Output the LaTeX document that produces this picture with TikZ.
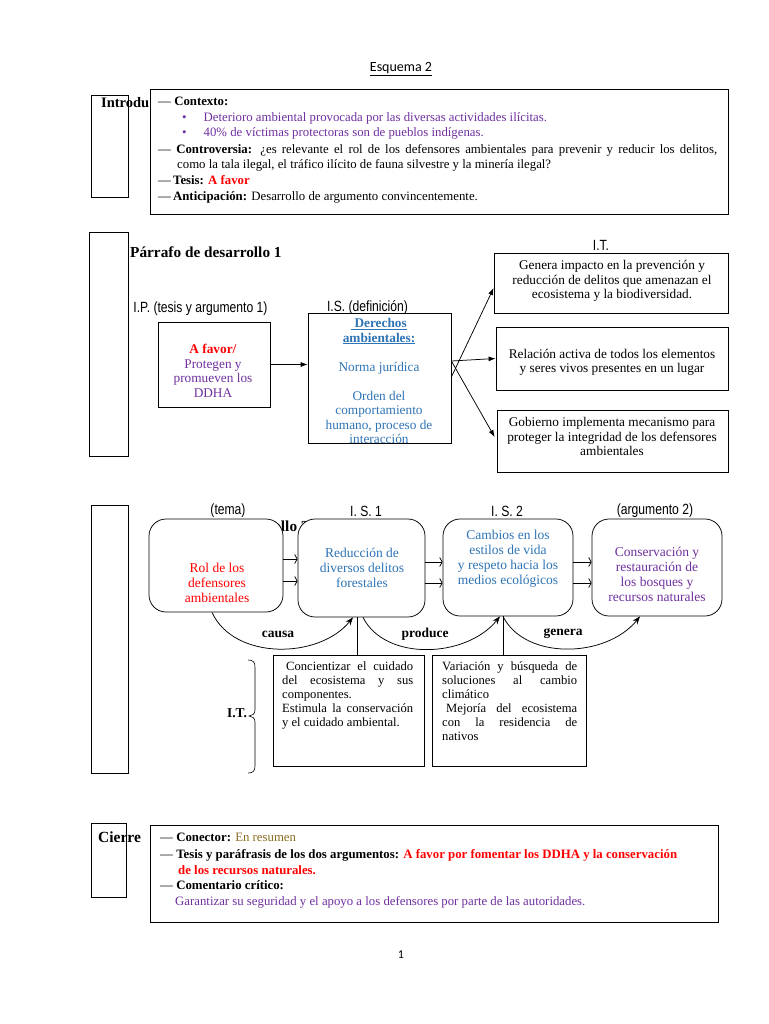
\documentclass[tikz,border=0pt]{standalone}
\usepackage{fontspec}
\setmainfont{Liberation Serif}
\setsansfont{Liberation Sans}[FakeStretch=0.82]
\newfontfamily\calibri{Carlito}
\usetikzlibrary{arrows.meta,calc}
\definecolor{purp}{HTML}{7030A0}
\definecolor{blu}{HTML}{2E74B5}
\definecolor{rojo}{HTML}{FF0000}
\definecolor{oro}{HTML}{8C6D1F}
\begin{document}
\begin{tikzpicture}[x=1pt,y=-1pt,
  box/.style={draw, line width=0.75pt, fill=white, inner sep=0pt},
  rbox/.style={box, rounded corners=17pt},
  lbl/.style={inner sep=0pt, anchor=base west},
  ctr/.style={inner sep=0pt, align=center},
  sans/.style={inner sep=0pt, font=\sffamily\fontsize{14.8}{16}\selectfont},
  hd/.style={inner sep=0pt, anchor=base west, font=\bfseries\fontsize{15.3}{17}\selectfont},
  body/.style={font=\fontsize{12.8}{16}\selectfont},
  boxtxt/.style={ctr, font=\fontsize{13.3}{14.5}\selectfont},
  rtxt/.style={ctr, font=\fontsize{13.5}{15}\selectfont},
  ittxt/.style={inner sep=0pt, anchor=north west, align=justify, font=\fontsize{12.6}{14}\selectfont},
  bl/.style={inner sep=0pt, font=\bfseries\fontsize{13.5}{15}\selectfont},
  arr/.style={line width=0.75pt, -{Latex[length=7pt,width=5pt]}},
  carr/.style={line width=0.75pt, -{Stealth[length=8pt,width=6pt]}},
  dbl/.style={line width=0.75pt, -{Straight Barb[length=2.5pt,width=9pt]}}
]
\fill[white] (0,0) rectangle (768,1024);
\useasboundingbox (0,0) rectangle (768,1024);

% ---------- title
\node[inner sep=0pt, font=\calibri\fontsize{14}{16}\selectfont] (title) at (401,69) {\underline{Esquema 2}};

% ---------- Introduccion
\node[box, minimum width=37pt, minimum height=102pt] (introlbl) at (109.5,146) {};
\node[inner sep=0pt, anchor=base west, font=\bfseries\fontsize{14.5}{16}\selectfont] (introtxt) at (101,108) {Introdu};
\node[box, minimum width=578pt, minimum height=125pt] (introbox) at (439,151.5) {};
\node[lbl, body] (i1) at (158,106) {— \textbf{Contexto:}};
\node[lbl, body, text=purp] (i2) at (182,122) {•\hspace{17pt}Deterioro ambiental provocada por las diversas actividades ilícitas.};
\node[lbl, body, text=purp] (i3) at (182,137) {•\hspace{17pt}40\% de víctimas protectoras son de pueblos indígenas.};
\node[lbl, body] (i4) at (158,154) {\makebox[559pt][s]{— \textbf{Controversia:} ¿es relevante el rol de los defensores ambientales para prevenir y reducir los delitos,}};
\node[lbl, body] (i5) at (177,169) {como la tala ilegal, el tráfico ilícito de fauna silvestre y la minería ilegal?};
\node[lbl, body] (i6) at (158,185) {—\,\textbf{Tesis: \textcolor{rojo}{A favor}}};
\node[lbl, body] (i7) at (158,201) {—\,\textbf{Anticipación:} Desarrollo de argumento convincentemente.};

% ---------- Parrafo 1
\node[box, minimum width=39pt, minimum height=224pt] (p1lbl) at (108.5,344) {};
\node[hd] (p1h) at (130,257) {Párrafo de desarrollo 1};
\node[sans] (iplab) at (200.5,309) {I.P. (tesis y argumento 1)};
\node[box, minimum width=112pt, minimum height=85pt] (ipbox) at (214,364.5) {};
\node[boxtxt] (iptxt) at (213,371) {\textcolor{rojo}{\textbf{A favor/}}\\\textcolor{purp}{Protegen y}\\\textcolor{purp}{promueven los}\\\textcolor{purp}{DDHA}};
\node[box, minimum width=143pt, minimum height=130pt] (isbox) at (379.5,378) {};
\node[sans] (islab) at (367.5,308) {I.S. (definición)};
\node[boxtxt, text=blu] (istxt) at (379,381) {\textbf{\underline{\ Derechos}}\\\textbf{\underline{ambientales:}}\\[14.5pt]Norma jurídica\\[14.5pt]Orden del\\comportamiento\\humano, proceso de\\interacción};

\node[sans] (itlab) at (601,245) {I.T.};
\node[box, minimum width=234pt, minimum height=60pt] (it1) at (611,283) {};
\node[boxtxt] (it1t) at (612,281) {Genera impacto en la prevención y\\reducción de delitos que amenazan el\\ecosistema y la biodiversidad.};
\node[box, minimum width=232pt, minimum height=63pt] (it2) at (612,358.5) {};
\node[boxtxt] (it2t) at (612,362.5) {Relación activa de todos los elementos\\y seres vivos presentes en un lugar};
\node[box, minimum width=231pt, minimum height=62pt] (it3) at (612.5,441) {};
\node[boxtxt] (it3t) at (612,436.5) {Gobierno implementa mecanismo para\\proteger la integridad de los defensores\\ambientales};

\draw[arr] (ipbox.east) -- (isbox.west |- ipbox.east);
\draw[arr] ($(isbox.east)+(0,-1)$) -- ($(it1.west)+(0,5)$);
\draw[arr] ($(isbox.east)+(0,-17)$) -- (it2.west);
\draw[arr] ($(isbox.east)+(0,-17)$) -- ($(it3.west)+(-2,-4)$);

% ---------- Parrafo 2
\node[box, minimum width=37pt, minimum height=268pt] (p2lbl) at (109.5,639) {};
\node[hd] (p2h) at (157,531) {Párrafo de desarrollo 2};
\node[rbox, minimum width=134pt, minimum height=93pt] (r1) at (216,565.5) {};
\node[rbox, minimum width=127pt, minimum height=98pt] (r2) at (361.5,568) {};
\node[rbox, minimum width=130pt, minimum height=97pt] (r3) at (508,567.5) {};
\node[rbox, minimum width=130pt, minimum height=97pt] (r4) at (657,567.5) {};
\node[sans] (tema) at (228,511) {(tema)};
\node[sans] (is1) at (366,511) {I. S. 1};
\node[sans] (is2) at (507,511) {I. S. 2};
\node[sans] (arg2) at (655,511) {(argumento 2)};
\node[rtxt, text=rojo] (r1t) at (217,583) {Rol de los\\defensores\\ambientales};
\node[rtxt, text=blu] (r2t) at (362,567.5) {Reducción de\\diversos delitos\\forestales};
\node[rtxt, text=blu] (r3t) at (508,558.5) {Cambios en los\\estilos de vida\\y respeto hacia los\\medios ecológicos};
\node[rtxt, text=purp] (r4t) at (657,574.5) {Conservación y\\restauración de\\los bosques y\\recursos naturales};

\coordinate (ya) at (0,559);
\coordinate (yb) at (0,581);
\coordinate (yc) at (0,562);
\coordinate (yd) at (0,583);
\draw[dbl] (r1.east |- ya) -- (r2.west |- ya);
\draw[dbl] (r1.east |- yb) -- (r2.west |- yb);
\draw[dbl] (r2.east |- yc) -- (r3.west |- yc);
\draw[dbl] (r2.east |- yd) -- (r3.west |- yd);
\draw[dbl] (r3.east |- yc) -- (r4.west |- yc);
\draw[dbl] (r3.east |- yd) -- (r4.west |- yd);

\coordinate (c1a) at ($(r1.south)+(-4,0)$);
\coordinate (c1b) at ($(r2.south)+(-8.5,0)$);
\coordinate (c2a) at ($(r2.south)+(1.5,0)$);
\coordinate (c2b) at ($(r3.south)+(-8,0)$);
\coordinate (c3a) at ($(r3.south)+(-5,0)$);
\coordinate (c3b) at ($(r4.south)+(-17,0)$);
\draw[carr] (c1a) .. controls ($(c1a)+(22,48)$) and ($(c1b)+(-34,42)$) .. (c1b);
\draw[carr] (c2a) .. controls ($(c2a)+(22,44)$) and ($(c2b)+(-34,42)$) .. (c2b);
\draw[carr] (c3a) .. controls ($(c3a)+(22,44)$) and ($(c3b)+(-34,42)$) .. (c3b);
\node[bl] (causa) at (278,634) {causa};
\node[bl] (produce) at (425,634) {produce};
\node[bl] (genera) at (563,634) {genera};

\node[box, minimum width=151pt, minimum height=111pt] (itb1) at (348.5,710.5) {};
\node[box, minimum width=154pt, minimum height=111pt] (itb2) at (509,710.5) {};
\draw[line width=0.75pt] ($(r2.south)+(-4,0)$) coordinate (v1) -- (v1 |- itb1.north);
\draw[line width=0.75pt] ($(r3.south)+(-5,0)$) coordinate (v2) -- (v2 |- itb2.north);
\node[ittxt, text width=131pt] (itb1t) at (282,662) {\setlength{\parindent}{0pt}\hspace*{4pt}Concientizar el cuidado\linebreak del ecosistema y sus\linebreak componentes.\par Estimula la conservación\linebreak y el cuidado ambiental.};
\node[ittxt, text width=135pt] (itb2t) at (442,662) {\setlength{\parindent}{0pt}Variación y búsqueda de\linebreak soluciones al cambio\linebreak climático\par \hspace*{4pt}Mejoría del ecosistema\linebreak con la residencia de\linebreak nativos};
\draw[line width=0.6pt] (248,660) .. controls (253,660) and (255,662) .. (255,667) -- (255,710)
  .. controls (255,714) and (252,716) .. (249,716) .. controls (252,716) and (255,718) .. (255,722)
  -- (255,766) .. controls (255,771) and (253,773) .. (248,773);
\node[bl] (itl) at (237,713) {I.T.};

% ---------- Cierre
\node[box, minimum width=35pt, minimum height=74pt] (clbl) at (108.5,860) {};
\node[inner sep=0pt, anchor=base west, font=\bfseries\fontsize{15.5}{17}\selectfont] (ctxt) at (98,842) {Cierre};
\node[box, minimum width=568pt, minimum height=97pt] (cbox) at (434,873.5) {};
\node[lbl, body] (c1) at (160,841) {— \textbf{Conector:} \textcolor{oro}{En resumen}};
\node[lbl, body] (c2) at (160,858) {— \textbf{Tesis y paráfrasis de los dos argumentos: \textcolor{rojo}{A favor por fomentar los DDHA y la conservación}}};
\node[lbl, body] (c3) at (178,874) {\textbf{\textcolor{rojo}{de los recursos naturales.}}};
\node[lbl, body] (c4) at (160,889) {— \textbf{Comentario crítico:}};
\node[lbl, body, text=purp] (c5) at (175,905) {Garantizar su seguridad y el apoyo a los defensores por parte de las autoridades.};

\node[inner sep=0pt, font=\calibri\fontsize{12}{14}\selectfont] (pnum) at (401,955) {1};
\end{tikzpicture}
\end{document}
